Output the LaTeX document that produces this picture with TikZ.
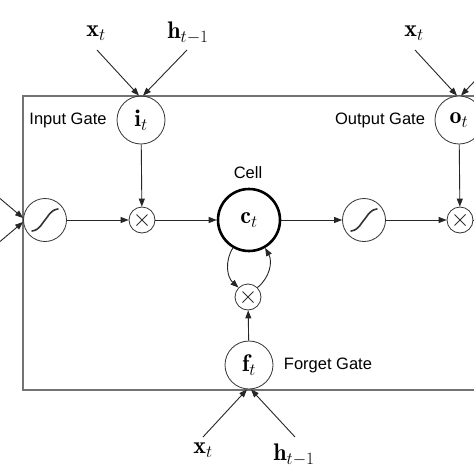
\documentclass[tikz,border=0pt]{standalone}
\usepackage{fontspec}
\newfontfamily\labelfont{Liberation Sans}
\usetikzlibrary{arrows.meta}
\begin{document}
\begin{tikzpicture}[x=1pt,y=-1pt,
  line cap=butt,
  arr/.style={line width=0.9pt, draw=black!85, -{Triangle[length=8pt,width=6pt]}},
  gate/.style={circle, draw=black!80, line width=0.8pt, minimum size=48pt, inner sep=0pt, font=\fontsize{24}{28}\selectfont},
  cellnode/.style={circle, draw=black, line width=2.6pt, minimum size=62pt, inner sep=0pt, font=\fontsize{24}{28}\selectfont},
  mult/.style={circle, draw=black!80, line width=0.8pt, minimum size=26pt, inner sep=0pt,
    path picture={
      \draw[line width=0.8pt] ([shift={(-5.5pt,-5.5pt)}]path picture bounding box.center) -- ([shift={(5.5pt,5.5pt)}]path picture bounding box.center);
      \draw[line width=0.8pt] ([shift={(-5.5pt,5.5pt)}]path picture bounding box.center) -- ([shift={(5.5pt,-5.5pt)}]path picture bounding box.center);
    }},
  sig/.style={circle, draw=black!80, line width=0.8pt, minimum size=43pt, inner sep=0pt,
    path picture={
      \draw[line width=1.6pt, line cap=round] ([shift={(-13pt,-11pt)}]path picture bounding box.center)
        .. controls ([shift={(-5pt,-10pt)}]path picture bounding box.center) and ([shift={(-3pt,-3pt)}]path picture bounding box.center) ..
        (path picture bounding box.center)
        .. controls ([shift={(3pt,3pt)}]path picture bounding box.center) and ([shift={(5pt,10pt)}]path picture bounding box.center) ..
        ([shift={(13pt,11pt)}]path picture bounding box.center);
    }},
  lab/.style={font=\labelfont\fontsize{16.5}{20}\selectfont, inner sep=0pt},
  var/.style={font=\fontsize{24}{28}\selectfont, inner sep=1pt}
]
\useasboundingbox (0,0) rectangle (474,474);
\fill[white] (0,0) rectangle (474,474);
\clip (0,0) rectangle (474,474);

% frame
\draw[draw=black!55, line width=1.5pt] (490,96) -- (23,96) -- (23,390) -- (490,390);

% nodes
\node[gate] (i) at (141,120) {$\mathbf{i}_t$};
\node[gate, fill=white] (o) at (459,120) {$\mathbf{o}_t$};
\node[gate] (f) at (249,365) {$\mathbf{f}_t$};
\node[cellnode] (c) at (249,220) {$\mathbf{c}_t$};
\node[sig, fill=white] (s1) at (45,220) {};
\node[sig] (s2) at (364,220) {};
\node[mult] (m1) at (142,220) {};
\node[mult] (mo) at (460,220) {};
\node[mult] (mf) at (248,297) {};

% labels
\node[lab] (li) at (68,120) {Input Gate};
\node[lab] (lo) at (380,120) {Output Gate};
\node[lab] (lc) at (248,173) {Cell};
\node[lab] (lf) at (328,365) {Forget Gate};

% input variables
\node[var] (x1) at (96,33) {$\mathbf{x}_t$};
\node[var] (h1) at (188,33) {$\mathbf{h}_{t-1}$};
\node[var] (x2) at (414,33) {$\mathbf{x}_t$};
\node[var] (x3) at (203,450) {$\mathbf{x}_t$};
\node[var] (h3) at (294,455) {$\mathbf{h}_{t-1}$};

\coordinate (h2) at (504,50);
\coordinate (inA) at (-10,190);
\coordinate (inB) at (-10,250);
\coordinate (outR) at (490,220);

% arrows into gates
\draw[arr] (97,50) -- ([xshift=-2pt]i.north);
\draw[arr] (187,50) -- ([xshift=2pt]i.north);
\draw[arr] (415,50) -- ([xshift=-2pt]o.north);
\draw[arr] (h2) -- ([xshift=2pt]o.north);
\draw[arr] (203,437) -- ([xshift=-2pt]f.south);
\draw[arr] (295,437) -- ([xshift=2pt]f.south);
\draw[arr] (inA) -- ([yshift=2pt]s1.west);
\draw[arr] (inB) -- ([yshift=-2pt]s1.west);

% main flow
\draw[arr] (s1) -- (m1);
\draw[arr] (i) -- (m1);
\draw[arr] (m1) -- (c);
\draw[arr] (c) -- (s2);
\draw[arr] (s2) -- (mo);
\draw[arr] (o) -- (mo);
\draw[line width=0.9pt, draw=black!85] (mo) -- (outR);
\draw[arr] (f) -- (mf);
\draw[arr] (c.240) to[bend right=40] (mf.135);
\draw[arr] (mf.45) to[bend right=40] (c.300);
\end{tikzpicture}
\end{document}
